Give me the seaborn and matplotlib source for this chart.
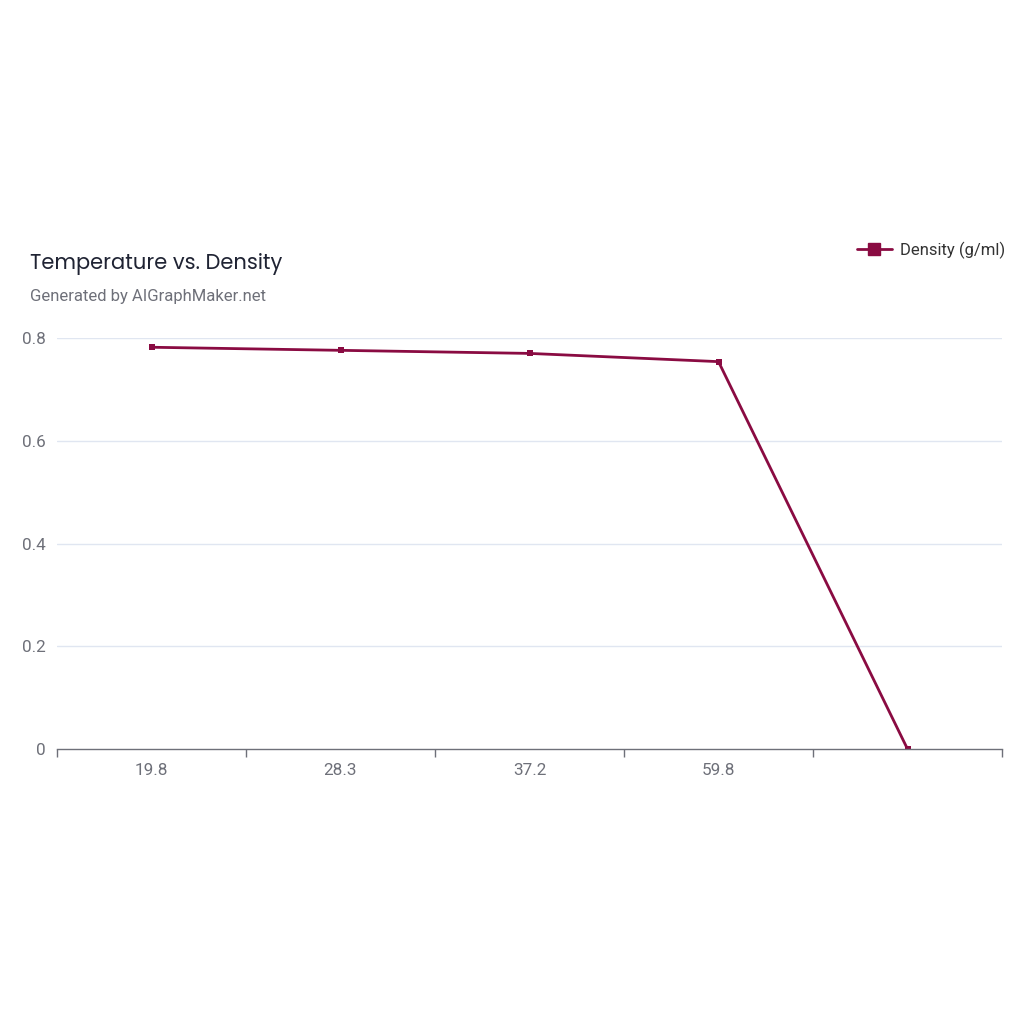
import matplotlib
matplotlib.use('Agg')
import matplotlib.pyplot as plt
import seaborn as sns
import pandas as pd
from matplotlib.lines import Line2D

# Data
temperature = ['19.8', '28.3', '37.2', '59.8', '']
density = [0.782, 0.776, 0.770, 0.754, 0.0]
y_ticks = [0, 0.2, 0.4, 0.6, 0.8]
y_labels = ['0', '0.2', '0.4', '0.6', '0.8']

df = pd.DataFrame({'pos': range(len(temperature)), 'Density': density})

line_color = '#8a0b42'
tick_color = '#6e7079'

sns.set_style('white')
plt.rcParams['font.family'] = ['Roboto', 'DejaVu Sans']

fig = plt.figure(figsize=(10.24, 10.24), dpi=100)
ax = fig.add_axes([57 / 1024, 1 - 749 / 1024, 945 / 1024, 411 / 1024])

sns.lineplot(data=df, x='pos', y='Density', ax=ax, color=line_color, linewidth=2,
             marker='s', markersize=4, markeredgewidth=0, legend=False)

ax.set_xlim(-0.5, len(temperature) - 0.5)
ax.set_ylim(0, 0.8)

# grid lines
for t in y_ticks[1:]:
    ax.axhline(t, color='#e0e6f1', linewidth=1, zorder=0)

ax.set_yticks(y_ticks)
ax.set_yticklabels(y_labels, fontsize=12.3, color=tick_color)
ax.tick_params(axis='y', length=0, pad=8)

# category boundaries as ticks, labels centred
ax.set_xticks([i - 0.5 for i in range(len(temperature) + 1)])
ax.set_xticklabels([''] * (len(temperature) + 1))
ax.set_xticks(range(len(temperature)), minor=True)
ax.set_xticklabels(temperature, minor=True, fontsize=12.3, color=tick_color)
ax.tick_params(axis='x', which='major', bottom=True, length=6, width=1,
               color=tick_color, direction='out')
ax.tick_params(axis='x', which='minor', bottom=True, length=0, pad=10)

for s in ['top', 'right', 'left']:
    ax.spines[s].set_visible(False)
ax.spines['bottom'].set_color(tick_color)
ax.spines['bottom'].set_linewidth(1)
ax.set_xlabel('')
ax.set_ylabel('')

fig.text(30 / 1024, 1 - 264 / 1024, 'Temperature vs. Density', fontsize=15.1,
         color='#1f2333', va='center', family=['Poppins', 'Inter', 'DejaVu Sans'])
fig.text(30 / 1024, 1 - 296 / 1024, 'Generated by AIGraphMaker.net', fontsize=12,
         color='#6e7079', va='center')

handle = Line2D([], [], color=line_color, linewidth=2, marker='s', markersize=9)
leg = fig.legend([handle], ['Density (g/ml)'], loc='center right',
                 bbox_to_anchor=(1020 / 1024, 1 - 250 / 1024), frameon=False,
                 fontsize=12, handlelength=2.1, handletextpad=0.5)
for txt in leg.get_texts():
    txt.set_color('#333333')

fig.savefig('out.png', dpi=100)
